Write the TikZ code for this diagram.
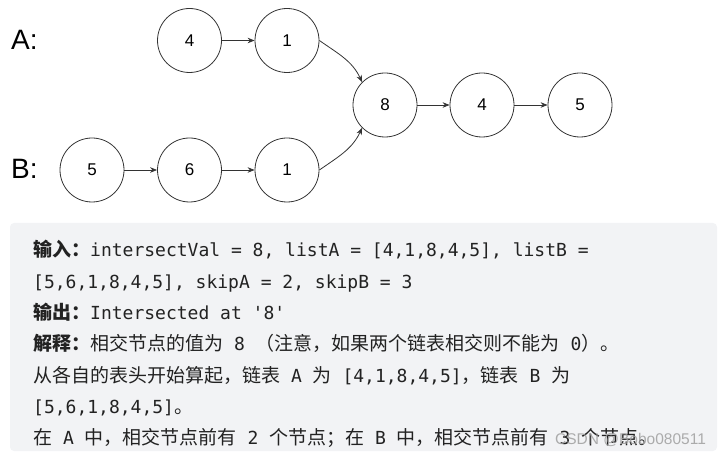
\documentclass[tikz,border=0pt]{standalone}
\usepackage{fontspec}
\setmainfont{Liberation Sans}
\setmonofont{DejaVu Sans Mono}
\newfontfamily\cjk{Noto Sans CJK SC}
\usetikzlibrary{arrows.meta}
\usepackage{xcolor}
\definecolor{boxbg}{HTML}{F2F3F5}
\definecolor{inkdark}{HTML}{222222}
\definecolor{ringgray}{HTML}{333333}
\newcommand\cd[1]{{\ttfamily\fontsize{18}{18}\selectfont #1}}

\begin{document}
\begin{tikzpicture}[x=1pt,y=-1pt,
    listnode/.style={circle, draw=ringgray, line width=0.8pt, minimum size=64pt,
      inner sep=0pt, font=\fontsize{17}{17}\selectfont},
    arr/.style={-{Stealth[length=7pt,width=5.5pt]}, line width=0.8pt, ringgray},
    textline/.style={anchor=base west, inner sep=0pt, text=inkdark,
      font=\cjk\fontsize{19}{19}\selectfont}]
  \useasboundingbox (0,0) rectangle (720,454);

  % lists
  \node[anchor=west, inner sep=0pt, font=\fontsize{28}{28}\selectfont] (labA) at (11,40) {A:};
  \node[anchor=west, inner sep=0pt, font=\fontsize{28}{28}\selectfont] (labB) at (11,169) {B:};
  \foreach \name/\val/\x/\y in {a1/4/189.5/40.5, a2/1/287/40.5,
      c1/8/385/105, c2/4/482/105, c3/5/580/105,
      b1/5/92/170, b2/6/189.5/170, b3/1/287/170}
    \node[listnode] (\name) at (\x,\y) {\val};
  \foreach \from/\to in {a1/a2, b1/b2, b2/b3, c1/c2, c2/c3}
    \draw[arr] (\from) -- (\to);
  \draw[arr] (a2.east) to[out=-35,in=115] (c1.north west);
  \draw[arr] (b3.east) to[out=35,in=-115] (c1.south west);

  % example box
  \fill[boxbg, rounded corners=4pt] (10,223) rectangle (717,451);
  \node[textline] (l1) at (33,257) {{\bfseries 输入：}\cd{intersectVal = 8, listA = [4,1,8,4,5], listB =}};
  \node[textline] (l2) at (33,288.3) {\cd{[5,6,1,8,4,5], skipA = 2, skipB = 3}};
  \node[textline] (l3) at (33,319.6) {{\bfseries 输出：}\cd{Intersected at '8'}};
  \node[textline] (l4) at (33,350.9) {{\bfseries 解释：}相交节点的值为\cd{ 8 }（注意，如果两个链表相交则不能为\cd{ 0}）。};
  \node[textline] (l5) at (33,382.2) {从各自的表头开始算起，链表\cd{ A }为\cd{ [4,1,8,4,5]}，链表\cd{ B }为};
  \node[textline] (l6) at (33,413.5) {\cd{[5,6,1,8,4,5]}。};
  \node[textline] (l7) at (33,444.8) {在\cd{ A }中，相交节点前有\cd{ 2 }个节点；在\cd{ B }中，相交节点前有\cd{ 3 }个节点。};
  \node[anchor=base west, inner sep=0pt, text=gray!75, opacity=0.85,
    font=\fontsize{15.5}{15.5}\selectfont] (wm) at (555,444) {CSDN @Bobo080511};
\end{tikzpicture}
\end{document}
